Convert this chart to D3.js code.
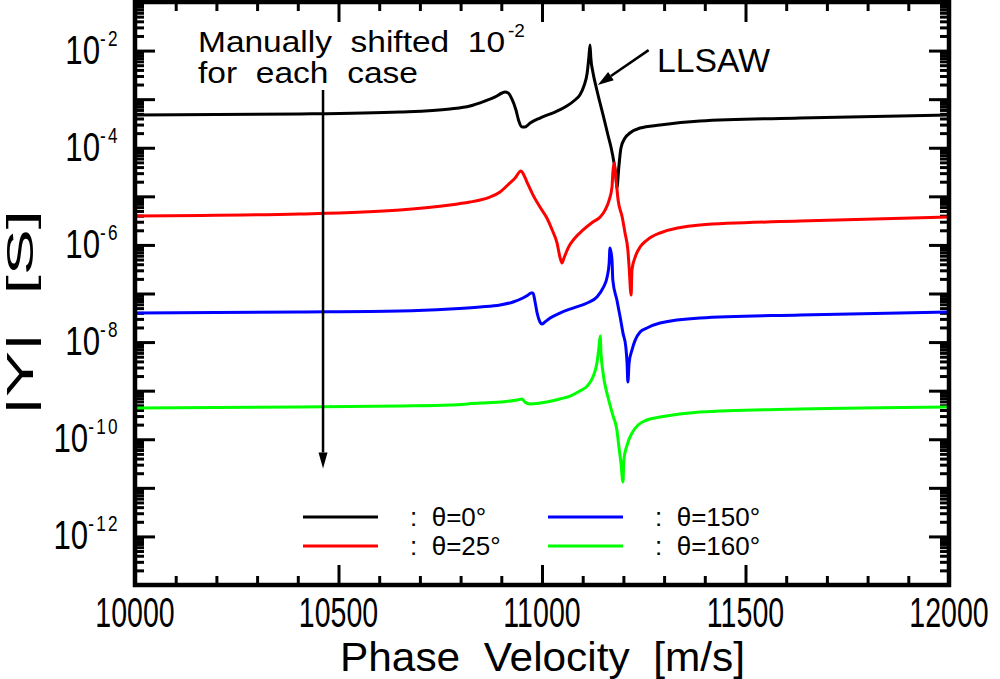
<!DOCTYPE html>
<html><head><meta charset="utf-8">
<script src="https://cdn.jsdelivr.net/npm/d3@7"></script>
<style>
html,body{margin:0;padding:0;background:#fff;}
svg{display:block;font-family:"Liberation Sans",Arial,sans-serif;}
text{white-space:pre;}
</style></head>
<body>
<svg id="chart" width="1000" height="679"></svg>
<script>
// ---- data ----
const xTickValues = [10000, 10500, 11000, 11500, 12000];
const xTickLabels = ["10000", "10500", "11000", "11500", "12000"];
const yLabelExponents = [-2, -4, -6, -8, -10, -12];

const seriesNames = ["θ=0°", "θ=25°", "θ=150°", "θ=160°"];
const seriesColors = ["#000000", "#ff0000", "#0000ff", "#00ff00"];

const velBlack = [10000,10405,10651,10774,10823,10860,10885,10902,10909,10917,10926,10936,10943,10951,10958,10971,10995,11032,11061,11081,11093,11103,11111,11115,11118,11120,11125,11133,11142,11152,11162,11170,11177,11182,11184,11189,11194,11204,11216,11241,11290,11388,11634,12000];
const admBlack = [4.72e-4,4.95e-4,5.44e-4,6.27e-4,7.22e-4,9.16e-4,1.11e-3,1.34e-3,1.40e-3,1.34e-3,1.01e-3,5.98e-4,3.55e-4,2.67e-4,2.67e-4,3.23e-4,4.09e-4,5.44e-4,7.22e-4,9.61e-4,1.22e-3,1.87e-3,3.45e-3,7.03e-3,1.30e-2,7.03e-3,3.62e-3,1.78e-3,8.74e-4,4.09e-4,1.83e-4,9.88e-5,4.85e-5,2.38e-5,1.48e-5,4.21e-5,9.88e-5,1.59e-4,2.01e-4,2.55e-4,2.94e-4,3.55e-4,4.09e-4,4.72e-4];

const velRed = [10000,10405,10651,10774,10823,10848,10872,10897,10916,10934,10948,10953,10963,10978,10995,11012,11025,11037,11044,11049,11054,11064,11081,11101,11125,11143,11155,11165,11172,11174,11177,11182,11187,11197,11204,11211,11214,11219,11221,11229,11241,11258,11290,11388,11634,12000];
const admRed = [3.94e-6,4.33e-6,5.22e-6,6.62e-6,7.64e-6,8.39e-6,9.68e-6,1.23e-5,1.71e-5,2.38e-5,3.32e-5,3.02e-5,1.97e-5,1.06e-5,6.03e-6,3.58e-6,2.03e-6,1.09e-6,5.64e-7,4.24e-7,5.37e-7,8.63e-7,1.39e-6,2.03e-6,2.96e-6,3.75e-6,5.22e-6,8.39e-6,1.56e-5,3.02e-5,4.85e-5,2.17e-5,8.39e-6,3.75e-6,1.76e-6,7.85e-7,3.51e-7,9.31e-8,3.04e-7,5.64e-7,9.06e-7,1.26e-6,1.76e-6,2.57e-6,3.10e-6,3.75e-6];

const velBlue = [10000,10405,10651,10774,10848,10897,10929,10953,10966,10973,10978,10983,10988,10995,11000,11007,11020,11044,11076,11111,11135,11150,11160,11165,11167,11172,11174,11184,11192,11199,11206,11209,11211,11214,11221,11229,11241,11258,11290,11388,11634,12000];
const admBlue = [3.96e-8,4.16e-8,4.36e-8,4.79e-8,5.27e-8,5.79e-8,6.68e-8,8.07e-8,9.31e-8,1.02e-7,1.02e-7,6.68e-8,3.96e-8,2.59e-8,2.35e-8,2.59e-8,3.13e-8,3.96e-8,5.02e-8,6.37e-8,8.45e-8,1.30e-7,2.18e-7,4.24e-7,8.63e-7,4.89e-7,1.89e-7,7.34e-8,3.28e-8,1.53e-8,7.91e-9,3.71e-9,1.51e-9,3.71e-9,6.85e-9,1.10e-8,1.61e-8,1.95e-8,2.47e-8,3.13e-8,3.61e-8,4.16e-8];

const velGreen = [10000,10405,10651,10774,10848,10897,10939,10951,10958,10971,11012,11044,11069,11093,11111,11125,11135,11140,11143,11145,11150,11162,11174,11184,11189,11194,11199,11201,11209,11221,11236,11258,11290,11388,11634,12000];
const admGreen = [4.38e-10,4.60e-10,4.83e-10,5.06e-10,5.56e-10,5.83e-10,6.41e-10,6.73e-10,5.83e-10,5.31e-10,5.83e-10,6.73e-10,7.75e-10,9.82e-10,1.24e-9,1.91e-9,3.71e-9,7.91e-9,1.33e-8,5.96e-9,2.31e-9,7.40e-10,3.15e-10,1.55e-10,6.92e-11,3.24e-11,1.32e-11,3.73e-11,7.60e-11,1.34e-10,1.96e-10,2.49e-10,2.86e-10,3.63e-10,4.19e-10,4.60e-10];

const seriesVel = [velBlack, velRed, velBlue, velGreen];
const seriesAdm = [admBlack, admRed, admBlue, admGreen];

// ---- layout ----
const L = 135, R = 949, T = 2, B = 585;
const svg = d3.select("#chart");
const x = d3.scaleLinear().domain([10000, 12000]).range([L, R]);
const y = d3.scaleLog().domain([1e-13, 1e-1]).range([B, T]);

// ticks
const xMinor = d3.range(10000, 12001, 100).filter(v => v % 500 !== 0);
const yMajor = d3.range(-13, 0).map(e => Math.pow(10, e)).concat([1e-1]);
const yMinor = [];
for (let e = -13; e < -1; e++) for (let k = 2; k <= 9; k++) yMinor.push(k * Math.pow(10, e));

function styleAxis(g) {
  g.select(".domain").remove();
  g.selectAll(".tick line").attr("stroke", "#000").attr("stroke-width", 3);
  g.selectAll(".tick text").remove();
}
const MAJ = 20, MIN = 9;
svg.append("g").attr("transform", `translate(0,${B})`).call(d3.axisBottom(x).tickValues(xTickValues).tickSize(-MAJ).tickFormat("")).call(styleAxis);
svg.append("g").attr("transform", `translate(0,${B})`).call(d3.axisBottom(x).tickValues(xMinor).tickSize(-MIN).tickFormat("")).call(styleAxis);
svg.append("g").attr("transform", `translate(0,${T})`).call(d3.axisTop(x).tickValues(xTickValues).tickSize(-MAJ).tickFormat("")).call(styleAxis);
svg.append("g").attr("transform", `translate(0,${T})`).call(d3.axisTop(x).tickValues(xMinor).tickSize(-MIN).tickFormat("")).call(styleAxis);
svg.append("g").attr("transform", `translate(${L},0)`).call(d3.axisLeft(y).tickValues(yMajor).tickSize(-MAJ).tickFormat("")).call(styleAxis);
svg.append("g").attr("transform", `translate(${L},0)`).call(d3.axisLeft(y).tickValues(yMinor).tickSize(-MIN).tickFormat("")).call(styleAxis);
svg.append("g").attr("transform", `translate(${R},0)`).call(d3.axisRight(y).tickValues(yMajor).tickSize(-MAJ).tickFormat("")).call(styleAxis);
svg.append("g").attr("transform", `translate(${R},0)`).call(d3.axisRight(y).tickValues(yMinor).tickSize(-MIN).tickFormat("")).call(styleAxis);

// curves
svg.append("clipPath").attr("id", "clip").append("rect").attr("x", L).attr("y", T).attr("width", R - L).attr("height", B - T);
const line = d3.line().x(d => x(d[0])).y(d => y(d[1])).curve(d3.curveMonotoneX);
const plot = svg.append("g").attr("clip-path", "url(#clip)");
seriesVel.forEach((vs, i) => {
  const pts = vs.map((v, j) => [v, seriesAdm[i][j]]);
  plot.append("path").datum(pts).attr("d", line)
    .attr("fill", "none").attr("stroke", seriesColors[i]).attr("stroke-width", 3)
    .attr("stroke-linejoin", "round");
});

// frame
svg.append("rect").attr("x", L).attr("y", T).attr("width", R - L).attr("height", B - T)
  .attr("fill", "none").attr("stroke", "#000").attr("stroke-width", 4.5);

// x tick labels
xTickValues.forEach((v, i) => {
  svg.append("text").attr("text-anchor", "middle")
    .attr("transform", `translate(${x(v)},627) scale(0.68,1)`)
    .attr("font-size", 42).text(xTickLabels[i]);
});
// y tick labels (one text each, base + superscript)
yLabelExponents.forEach(e => {
  const ty = y(Math.pow(10, e));
  const t = svg.append("text").attr("text-anchor", "end")
    .attr("transform", `translate(120,${ty + 13}) scale(0.78,1)`);
  t.append("tspan").attr("font-size", 40).text("10");
  t.append("tspan").attr("font-size", 22).attr("dy", -18).attr("letter-spacing", 3).text(String(e));
});

// axis titles
svg.append("text").attr("x", 340).attr("y", 671).attr("font-size", 40)
  .attr("textLength", 405).attr("lengthAdjust", "spacingAndGlyphs").text("Phase  Velocity  [m/s]");
svg.append("text").attr("transform", "translate(33,415) rotate(-90)").attr("font-size", 36)
  .attr("textLength", 205).attr("lengthAdjust", "spacingAndGlyphs").text("|Y|  [S]");

// annotation: manually shifted
const ann = svg.append("text").attr("x", 198).attr("y", 52).attr("font-size", 29);
ann.append("tspan").attr("textLength", 307).attr("lengthAdjust", "spacingAndGlyphs").text("Manually  shifted  10");
ann.append("tspan").attr("font-size", 19).attr("dx", 3).attr("dy", -15).text("-2");
svg.append("text").attr("x", 198).attr("y", 83).attr("font-size", 29)
  .attr("textLength", 220).attr("lengthAdjust", "spacingAndGlyphs").text("for  each  case");

function arrow(x1, y1, x2, y2, len, hw) {
  const ang = Math.atan2(y2 - y1, x2 - x1);
  const bx = x2 - len * Math.cos(ang), by = y2 - len * Math.sin(ang);
  svg.append("line").attr("x1", x1).attr("y1", y1).attr("x2", bx).attr("y2", by)
    .attr("stroke", "#000").attr("stroke-width", 2.5);
  const px = -Math.sin(ang) * hw, py = Math.cos(ang) * hw;
  svg.append("path").attr("d", `M${x2},${y2}L${bx + px},${by + py}L${bx - px},${by - py}Z`).attr("fill", "#000");
}
arrow(x(10462), y(Math.pow(10, -2.81)), x(10462), y(Math.pow(10, -10.6)), 16, 4.5);
// LLSAW
svg.append("text").attr("x", 657).attr("y", 72).attr("font-size", 34)
  .attr("textLength", 113).attr("lengthAdjust", "spacingAndGlyphs").text("LLSAW");
arrow(x(11262), y(Math.pow(10, -1.99)), x(11137), y(Math.pow(10, -2.71)), 16, 5);

// legend
const legX = [303, 303, 548, 548], legY = [517, 546, 517, 546];
const txtX = [410, 410, 655, 655];
[0, 1, 2, 3].forEach(i => {
  svg.append("line").attr("x1", legX[i]).attr("x2", legX[i] + 75).attr("y1", legY[i]).attr("y2", legY[i])
    .attr("stroke", seriesColors[i]).attr("stroke-width", 3);
  svg.append("text").attr("x", txtX[i]).attr("y", legY[i] + 9).attr("font-size", 26)
    .text(":  " + seriesNames[i]);
});
</script>
</body></html>
